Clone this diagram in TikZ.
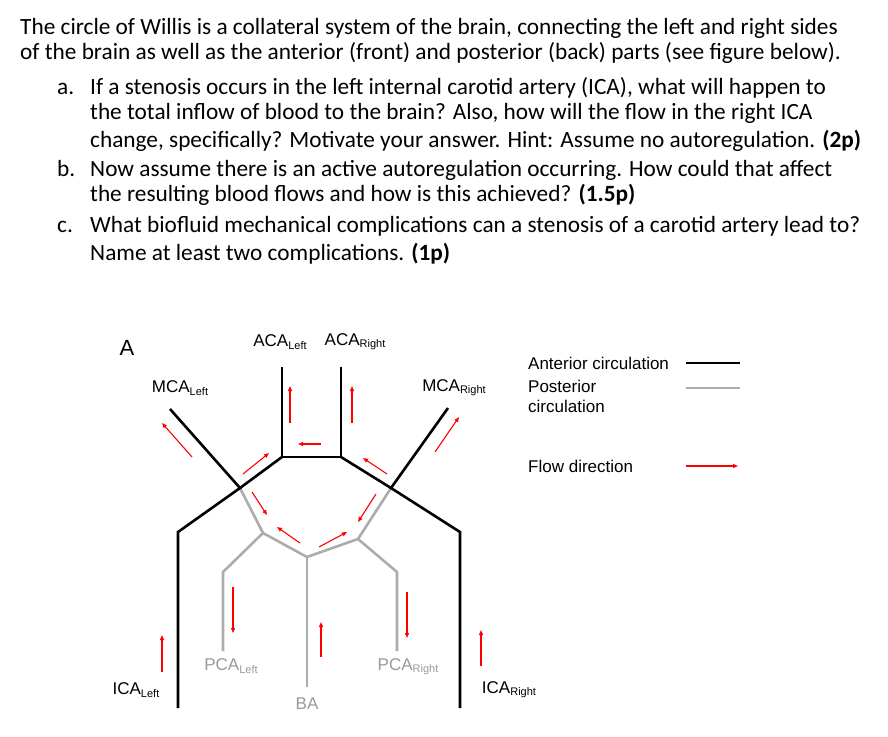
\documentclass[tikz,border=0pt]{standalone}
\usepackage{fontspec}
\setmainfont{Carlito}
\newfontfamily\arialf{Liberation Sans}
\usetikzlibrary{arrows.meta}
\newcommand{\sbs}[1]{\raisebox{-0.25ex}{\fontsize{11}{12}\selectfont #1}}
\begin{document}
\begin{tikzpicture}[x=1pt,y=-1pt,
  txt/.style={anchor=base west,inner sep=0pt,font=\fontsize{23.3}{27}\selectfont},
  lab/.style={inner sep=0pt,font=\arialf\fontsize{17}{20}\selectfont},
  ant/.style={line width=2.6pt,black},
  post/.style={line width=2.6pt,gray!65},
  flow/.style={red,line width=1.1pt,-{Triangle[length=5pt,width=4pt]}}]
\useasboundingbox (0,0) rectangle (888,736);
% text
\node[txt] (l1) at (20,34) {The circle of Willis is a collateral system of the brain, connecting the left and right sides};
\node[txt] (l2) at (20,59) {of the brain as well as the anterior (front) and posterior (back) parts (see figure below).};
\node[txt] (la) at (57,94) {a.};
\node[txt] (a1) at (90,94) {If a stenosis occurs in the left internal carotid artery (ICA), what will happen to};
\node[txt] (a2) at (90,119) {the total inflow of blood to the brain? Also, how will the flow in the right ICA};
\node[txt] (a3) at (90,147) {change, specifically? Motivate your answer. Hint: Assume no autoregulation. \textbf{(2p)}};
\node[txt] (lb) at (57,176) {b.};
\node[txt] (b1) at (90,176) {Now assume there is an active autoregulation occurring. How could that affect};
\node[txt] (b2) at (90,201) {the resulting blood flows and how is this achieved? \textbf{(1.5p)}};
\node[txt] (lc) at (57,232) {c.};
\node[txt] (c1) at (90,232) {What biofluid mechanical complications can a stenosis of a carotid artery lead to?};
\node[txt] (c2) at (90,260) {Name at least two complications. \textbf{(1p)}};
% coordinates
\coordinate (acaLt) at (282,367); \coordinate (acaLb) at (282,457);
\coordinate (acaRt) at (341,367); \coordinate (acaRb) at (341,457);
\coordinate (mcaL) at (170,409); \coordinate (jL) at (240,488);
\coordinate (mcaR) at (448,408); \coordinate (jR) at (391,488);
\coordinate (icaLk) at (178,532); \coordinate (icaLb) at (178,708);
\coordinate (icaRk) at (460,532); \coordinate (icaRb) at (460,708);
\coordinate (pL) at (263,533); \coordinate (pR) at (358,539);
\coordinate (ba) at (307,557); \coordinate (bab) at (307,687);
\coordinate (pcaLk) at (223,572); \coordinate (pcaLb) at (223,651);
\coordinate (pcaRk) at (397,572); \coordinate (pcaRb) at (397,651);
% posterior
\draw[post,line join=miter] (jL) -- (pL) -- (ba) -- (pR) -- (jR);
\draw[post] (pL) -- (pcaLk) -- (pcaLb);
\draw[post] (pR) -- (pcaRk) -- (pcaRb);
\draw[post] (ba) -- (bab);
% anterior
\draw[ant] (acaLt) -- (acaLb) -- (acaRb) -- (acaRt);
\draw[ant] (mcaL) -- (jL) -- (icaLk) -- (icaLb);
\draw[ant] (jL) -- (acaLb);
\draw[ant] (mcaR) -- (jR) -- (icaRk) -- (icaRb);
\draw[ant] (jR) -- (acaRb);
% flow arrows
\draw[flow] (192,457) -- (162,423);
\draw[flow] (290,423) -- (290,386);
\draw[flow] (352,423) -- (352,386);
\draw[flow] (321,444) -- (298,444);
\draw[flow] (243,474) -- (269,453);
\draw[flow] (387,474) -- (363,458);
\draw[flow] (435,452) -- (459,417);
\draw[flow] (252,492) -- (267,515);
\draw[flow] (376,494) -- (358,522);
\draw[flow] (300,543) -- (277,527);
\draw[flow] (319,547) -- (347,532);
\draw[flow] (233,587) -- (233,633);
\draw[flow] (407,592) -- (407,638);
\draw[flow] (321,657) -- (321,622);
\draw[flow] (162,672) -- (162,635);
\draw[flow] (481,666) -- (481,630);
% labels
\node[lab,font=\arialf\fontsize{22}{24}\selectfont] (A) at (127,348) {A};
\node[lab] (tacaL) at (280,342) {ACA\sbs{Left}};
\node[lab] (tacaR) at (355,342) {ACA\sbs{Right}};
\node[lab] (tmcaL) at (180,388) {MCA\sbs{Left}};
\node[lab] (tmcaR) at (454,388) {MCA\sbs{Right}};
\node[lab,gray!80] (tpcaL) at (231,666) {PCA\sbs{Left}};
\node[lab,gray!80] (tpcaR) at (408,667) {PCA\sbs{Right}};
\node[lab,gray!80] (tba) at (307,704) {BA};
\node[lab] (ticaL) at (136,690) {ICA\sbs{Left}};
\node[lab] (ticaR) at (509,690) {ICA\sbs{Right}};
% legend
\node[lab,anchor=west] (lg1) at (528,363) {Anterior circulation};
\node[lab,anchor=north west,align=left] (lg2) at (528,380) {Posterior\\circulation};
\node[lab,anchor=west] (lg3) at (528,466) {Flow direction};
\coordinate (k1a) at (686,363); \coordinate (k1b) at (740,363);
\coordinate (k2a) at (686,388); \coordinate (k2b) at (740,388);
\coordinate (k3a) at (686,466); \coordinate (k3b) at (738,466);
\draw[ant] (k1a) -- (k1b);
\draw[post] (k2a) -- (k2b);
\draw[flow] (k3a) -- (k3b);
\end{tikzpicture}
\end{document}
